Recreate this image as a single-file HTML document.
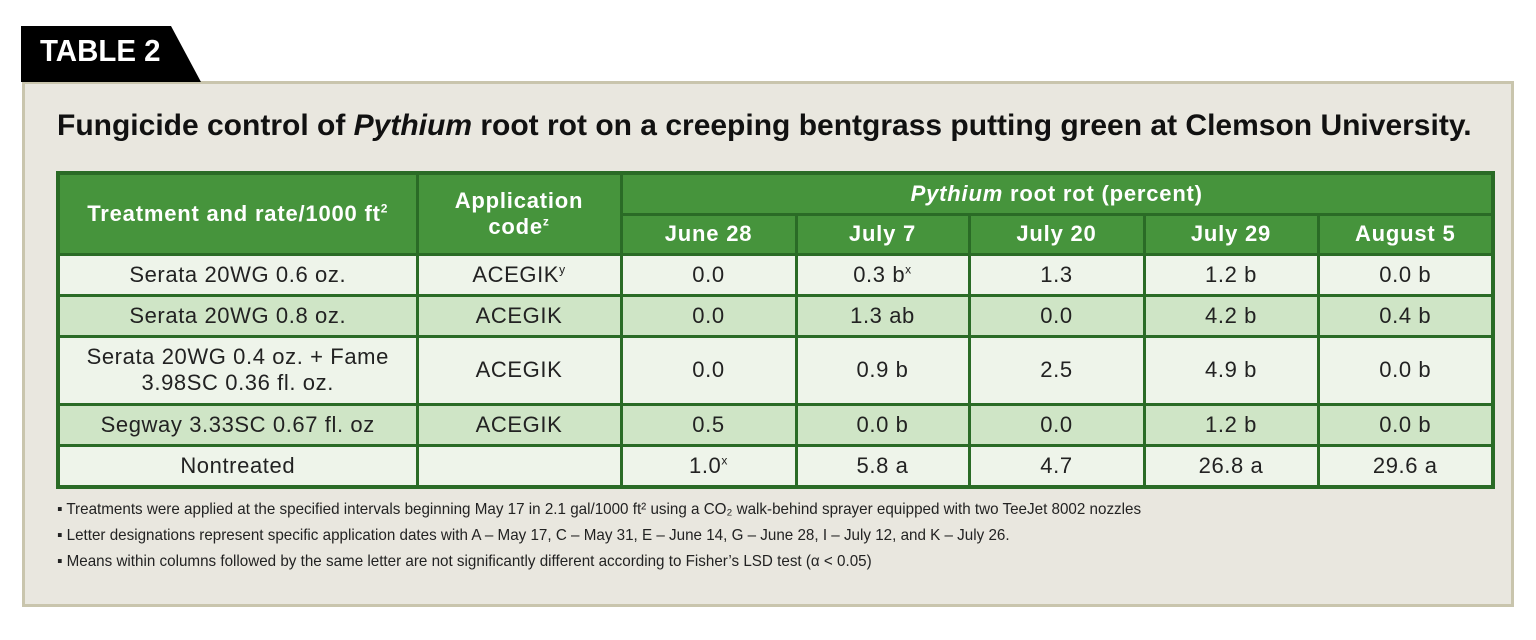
<!DOCTYPE html>
<html><head><style>
body{margin:0;width:1536px;height:640px;background:#fff;position:relative;overflow:hidden;font-family:"Liberation Sans",sans-serif}
.tab{position:absolute;left:21px;top:26px;width:180px;height:56px;background:#000;clip-path:polygon(0 0,150px 0,180px 56px,0 56px)}
.tab span{position:absolute;left:19px;top:7px;color:#fff;font-weight:bold;font-size:31px;transform:scaleX(.95);transform-origin:left}
.panel{position:absolute;left:22px;top:81px;width:1486px;height:520px;background:#e9e7df;border:3px solid #c9c5ad}
.title{position:absolute;left:57px;top:109px;font-size:30px;font-weight:bold;color:#111;white-space:nowrap;transform:scaleX(1.0);transform-origin:left}
table{position:absolute;left:56px;top:171px;border-collapse:collapse;border:4px solid #2a6b26}
td,th{border:3px solid #2a6b26;text-align:center;padding:0;font-size:22px;letter-spacing:.6px;color:#222}
th{background:#46943c;color:#fff;font-size:22px;letter-spacing:.8px;font-weight:bold}
tr.l td{background:#eef4ea}tr.d td{background:#cfe5c6}
sup{font-size:12px}
.fn{position:absolute;left:57px;font-size:16px;color:#222;white-space:nowrap;transform:scaleX(.95);transform-origin:left}
</style></head><body>
<div class="panel"></div>
<div class="tab"><span>TABLE 2</span></div>
<div class="title">Fungicide control of <i>Pythium</i> root rot on a creeping bentgrass putting green at Clemson University.</div>
<table>
<colgroup><col style="width:359px"><col style="width:204px"><col style="width:175px"><col style="width:173px"><col style="width:175px"><col style="width:174px"><col style="width:175px"></colgroup>
<tr style="height:41px"><th rowspan="2">Treatment and rate/1000 ft<sup>2</sup></th><th rowspan="2">Application<br>code<sup>z</sup></th><th colspan="5"><i>Pythium</i> root rot (percent)</th></tr>
<tr style="height:40px"><th>June 28</th><th>July 7</th><th>July 20</th><th>July 29</th><th>August 5</th></tr>
<tr class="l" style="height:41px"><td>Serata 20WG 0.6 oz.</td><td>ACEGIK<sup>y</sup></td><td>0.0</td><td>0.3 b<sup>x</sup></td><td>1.3</td><td>1.2 b</td><td>0.0 b</td></tr>
<tr class="d" style="height:41px"><td>Serata 20WG 0.8 oz.</td><td>ACEGIK</td><td>0.0</td><td>1.3 ab</td><td>0.0</td><td>4.2 b</td><td>0.4 b</td></tr>
<tr class="l" style="height:68px"><td>Serata 20WG 0.4 oz. + Fame<br>3.98SC 0.36 fl. oz.</td><td>ACEGIK</td><td>0.0</td><td>0.9 b</td><td>2.5</td><td>4.9 b</td><td>0.0 b</td></tr>
<tr class="d" style="height:41px"><td>Segway 3.33SC 0.67 fl. oz</td><td>ACEGIK</td><td>0.5</td><td>0.0 b</td><td>0.0</td><td>1.2 b</td><td>0.0 b</td></tr>
<tr class="l" style="height:42px"><td>Nontreated</td><td></td><td>1.0<sup>x</sup></td><td>5.8 a</td><td>4.7</td><td>26.8 a</td><td>29.6 a</td></tr>
</table>
<div class="fn" style="top:501px">▪ Treatments were applied at the specified intervals beginning May 17 in 2.1 gal/1000 ft² using a CO₂ walk-behind sprayer equipped with two TeeJet 8002 nozzles</div>
<div class="fn" style="top:527px">▪ Letter designations represent specific application dates with A – May 17, C – May 31, E – June 14, G – June 28, I – July 12, and K – July 26.</div>
<div class="fn" style="top:553px">▪ Means within columns followed by the same letter are not significantly different according to Fisher’s LSD test (α &lt; 0.05)</div>
</body></html>
